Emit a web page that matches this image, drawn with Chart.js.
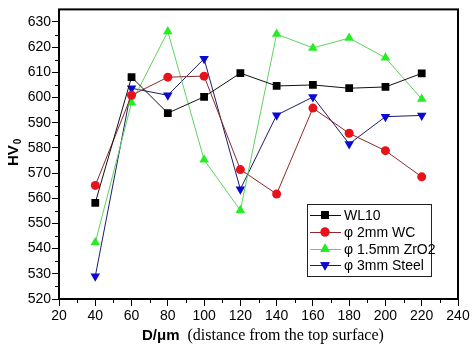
<!DOCTYPE html>
<html>
<head>
<meta charset="utf-8">
<style>
  html, body { margin: 0; padding: 0; background: #fff; }
  #wrap { width: 474px; height: 349px; position: relative; }
</style>
<script src="https://cdn.jsdelivr.net/npm/chart.js@4.4.1/dist/chart.umd.min.js"></script>
</head>
<body>
<div id="wrap"><canvas id="chart" width="474" height="349"></canvas></div>
<script>
const depths = [40, 60, 80, 100, 120, 140, 160, 180, 200, 220];
const wl10 = [558.2, 608.1, 593.8, 600.3, 609.7, 604.6, 605.0, 603.7, 604.2, 609.6];
const wc2mm = [565.1, 600.9, 608.1, 608.5, 571.4, 561.7, 595.8, 585.8, 578.9, 568.5];
const zro2 = [542.4, 597.9, 626.2, 575.3, 555.2, 625.2, 619.7, 623.6, 615.8, 599.4];
const steel3mm = [529.0, 603.7, 600.9, 615.4, 563.6, 593.0, 600.2, 581.6, 592.4, 592.9];
const seriesNames = ['WL10', 'φ 2mm WC', 'φ 1.5mm ZrO2', 'φ 3mm Steel'];
const xTicks = [20, 40, 60, 80, 100, 120, 140, 160, 180, 200, 220, 240];
const yTicks = [520, 530, 540, 550, 560, 570, 580, 590, 600, 610, 620, 630];

const FONT = '"Liberation Sans", Arial, sans-serif';

function toPoints(values) {
  return values.map((v, i) => ({ x: depths[i], y: v }));
}

function series(label, values, lineColor, fill, style, radius, rotation) {
  return {
    label,
    data: toPoints(values),
    borderColor: lineColor,
    backgroundColor: fill,
    borderWidth: 1,
    pointStyle: style,
    pointRadius: radius,
    pointRotation: rotation || 0,
    pointBackgroundColor: fill,
    pointBorderColor: fill,
    pointBorderWidth: 0,
    tension: 0,
  };
}

const datasets = [
  series(seriesNames[0], wl10, '#111111', '#000000', 'rect', 5.5),
  series(seriesNames[1], wc2mm, '#8a2a2a', '#e8121a', 'circle', 4.5),
  series(seriesNames[2], zro2, '#5fd35f', '#22ee22', 'triangle', 5.5),
  series(seriesNames[3], steel3mm, '#1c1c6a', '#0a0ad0', 'triangle', 5.5, 180),
];

// minor ticks, frame, axis titles and the boxed legend
const decorations = {
  id: 'decorations',
  afterDraw(chart) {
    const { ctx, chartArea: a, scales } = chart;
    const xs = scales.x, ys = scales.y;
    ctx.save();
    ctx.strokeStyle = '#000';
    ctx.lineWidth = 1;
    ctx.beginPath();
    for (let v = 30; v < 240; v += 20) {
      const px = Math.round(xs.getPixelForValue(v)) + 0.5;
      ctx.moveTo(px, a.bottom); ctx.lineTo(px, a.bottom + 4);
    }
    for (let v = 525; v < 635; v += 10) {
      const py = Math.round(ys.getPixelForValue(v)) + 0.5;
      ctx.moveTo(a.left, py); ctx.lineTo(a.left - 4, py);
    }
    ctx.stroke();

    ctx.lineWidth = 2;
    ctx.strokeRect(a.left, a.top, a.right - a.left, a.bottom - a.top);

    // y title: HV with subscript 0
    ctx.fillStyle = '#000';
    ctx.save();
    ctx.translate(18, 166);
    ctx.rotate(-Math.PI / 2);
    ctx.textBaseline = 'alphabetic';
    ctx.textAlign = 'left';
    ctx.font = 'bold 15px ' + FONT;
    ctx.fillText('HV', 0, 0);
    const w = ctx.measureText('HV').width;
    ctx.font = 'bold 10px ' + FONT;
    ctx.fillText('0', w + 1, 3);
    ctx.restore();

    // x title
    ctx.textBaseline = 'middle';
    ctx.textAlign = 'left';
    ctx.font = 'bold 15px ' + FONT;
    const part1 = 'D/μm';
    ctx.fillText(part1, 142, 336);
    const w1 = ctx.measureText(part1).width;
    ctx.font = '16px "Liberation Serif", "Times New Roman", serif';
    ctx.fillText('(distance from the top surface)', 142 + w1 + 8, 336);

    // legend
    const lx = 307, ly = 204, lw = 124, lh = 72;
    ctx.fillStyle = '#fff';
    ctx.fillRect(lx, ly, lw, lh);
    ctx.lineWidth = 1;
    ctx.strokeStyle = '#222';
    ctx.strokeRect(lx + 0.5, ly + 0.5, lw, lh);
    const rows = [215, 232, 249, 265];
    chart.data.datasets.forEach((ds, i) => {
      const y = rows[i];
      ctx.strokeStyle = ds.borderColor;
      ctx.lineWidth = 1;
      ctx.beginPath();
      ctx.moveTo(310, y + 0.5); ctx.lineTo(341, y + 0.5);
      ctx.stroke();
      ctx.fillStyle = ds.pointBackgroundColor;
      Chart.helpers.drawPoint(ctx, {
        pointStyle: ds.pointStyle,
        radius: ds.pointRadius,
        rotation: ds.pointRotation,
        borderWidth: 0,
      }, 325, y);
      ctx.fill();
      ctx.fillStyle = '#000';
      ctx.font = '14px ' + FONT;
      ctx.textBaseline = 'middle';
      ctx.fillText(ds.label, 344, y + 1);
    });
    ctx.restore();
  },
};

new Chart(document.getElementById('chart'), {
  type: 'line',
  data: { datasets },
  options: {
    responsive: false,
    animation: false,
    layout: { padding: { top: 5, right: 16, left: 0, bottom: 0 } },
    plugins: { legend: { display: false }, tooltip: { enabled: false } },
    scales: {
      x: {
        type: 'linear',
        min: 20,
        max: 240,
        afterBuildTicks(scale) { scale.ticks = xTicks.map(v => ({ value: v })); },
        afterFit(scale) { scale.height = 50; },
        grid: { display: true, drawOnChartArea: false, drawTicks: true, tickLength: 7, color: '#000', lineWidth: 1 },
        border: { display: false },
        ticks: { color: '#000', font: { family: FONT, size: 14 }, padding: 2, maxRotation: 0 },
      },
      y: {
        type: 'linear',
        min: 520,
        max: 635,
        afterBuildTicks(scale) { scale.ticks = yTicks.map(v => ({ value: v })); },
        afterFit(scale) { scale.width = 59; },
        grid: { display: true, drawOnChartArea: false, drawTicks: true, tickLength: 7, color: '#000', lineWidth: 1 },
        border: { display: false },
        ticks: { color: '#000', font: { family: FONT, size: 14 }, padding: 1 },
      },
    },
  },
  plugins: [decorations],
});
</script>
</body>
</html>
